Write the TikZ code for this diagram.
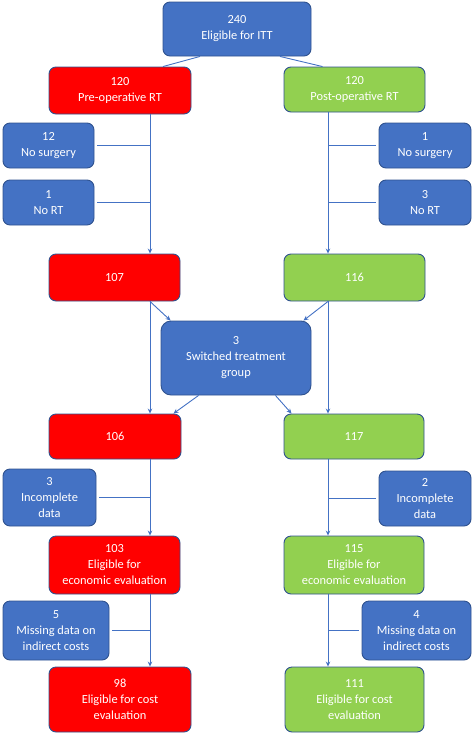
\documentclass[tikz,border=0pt]{standalone}
\usepackage{fontspec}
\setmainfont{Carlito}
\usepackage{xcolor}
\usepackage{tikz}
\usetikzlibrary{arrows.meta,positioning}

\definecolor{boxblue}{HTML}{4472C4}
\definecolor{boxedge}{HTML}{2F528F}
\definecolor{boxred}{HTML}{FF0000}
\definecolor{boxgreen}{HTML}{92D050}

\tikzset{
  box/.style={draw=boxedge, line width=0.9pt, rounded corners=7pt, text=white,
    align=center, inner sep=0pt, font=\fontsize{12.4}{16}\selectfont},
  bluebox/.style={box, fill=boxblue},
  redbox/.style={box, fill=boxred},
  greenbox/.style={box, fill=boxgreen},
  link/.style={draw=boxblue, line width=0.9pt},
  flow/.style={link, -{Stealth[length=5pt,width=4.5pt]}}
}

\begin{document}
\begin{tikzpicture}[x=1pt,y=-1pt]
		\useasboundingbox (0,0) rectangle (474,734);
		\node[bluebox, minimum width=148pt, minimum height=54pt] (itt) at (237,29) {240\\Eligible for ITT};
		\node[redbox, minimum width=142pt, minimum height=47pt] (pre) at (120,90.5) {120\\Pre-operative RT};
		\node[greenbox, minimum width=141pt, minimum height=45pt] (post) at (354.5,89.5) {120\\Post-operative RT};
		\node[bluebox, minimum width=91pt, minimum height=45pt] (nosurgL) at (48.5,145.5) {12\\No surgery};
		\node[bluebox, minimum width=91pt, minimum height=45pt] (nortL) at (48.5,202.5) {1\\No RT};
		\node[bluebox, minimum width=92pt, minimum height=45pt] (nosurgR) at (425,145.5) {1\\No surgery};
		\node[bluebox, minimum width=92pt, minimum height=45pt] (nortR) at (425,202.5) {3\\No RT};
		\node[redbox, minimum width=131pt, minimum height=47pt] (n107) at (114.5,277.5) {107};
		\node[greenbox, minimum width=141pt, minimum height=47pt] (n116) at (354.5,277.5) {116};
		\node[bluebox, minimum width=150pt, minimum height=74pt, rounded corners=10pt] (switch) at (236,358) {3\\Switched treatment\\group};
		\node[redbox, minimum width=132pt, minimum height=45pt] (n106) at (115,436.5) {106};
		\node[greenbox, minimum width=140pt, minimum height=45pt] (n117) at (354,436.5) {117};
		\node[bluebox, minimum width=93pt, minimum height=57pt] (incompL) at (49.5,497.5) {3\\Incomplete\\data};
		\node[bluebox, minimum width=92pt, minimum height=55pt] (incompR) at (425,498.5) {2\\Incomplete\\data};
		\node[redbox, minimum width=131pt, minimum height=58pt] (n103) at (114.5,565) {103\\Eligible for\\economic evaluation};
		\node[greenbox, minimum width=140pt, minimum height=58pt] (n115) at (354,565) {115\\Eligible for\\economic evaluation};
		\node[bluebox, minimum width=106pt, minimum height=59pt] (missL) at (56,630.5) {5\\Missing data on\\indirect costs};
		\node[bluebox, minimum width=109pt, minimum height=59pt] (missR) at (416.5,630.5) {4\\Missing data on\\indirect costs};
		\node[redbox, minimum width=142pt, minimum height=65pt] (n98) at (120,699.5) {98\\Eligible for cost\\evaluation};
		\node[greenbox, minimum width=139pt, minimum height=65pt] (n111) at (354.5,699.5) {111\\Eligible for cost\\evaluation};
		\coordinate (spineL) at (150,0);
		\coordinate (spineR) at (328,0);
		% split
		\draw[link] ([xshift=-37pt]itt.south) -- ([xshift=43pt]pre.north);
		\draw[link] ([xshift=43pt]itt.south) -- ([xshift=-32pt]post.north);
		% left arm
		\draw[flow] (pre.south -| spineL) -- (n107.north -| spineL);
		\draw[flow] (n107.south -| spineL) -- (n106.north -| spineL);
		\draw[flow] (n106.south -| spineL) -- (n103.north -| spineL);
		\draw[flow] (n103.south -| spineL) -- (n98.north -| spineL);
		% right arm
		\draw[flow] (post.south -| spineR) -- (n116.north -| spineR);
		\draw[flow] (n116.south -| spineR) -- (n117.north -| spineR);
		\draw[flow] (n117.south -| spineR) -- (n115.north -| spineR);
		\draw[flow] (n115.south -| spineR) -- (n111.north -| spineR);
		% exclusions
		\foreach \ex in {nosurgL,nortL,incompL,missL}
			\draw[link] ([xshift=3pt]\ex.east) -- (\ex.east -| spineL);
		\foreach \ex in {nosurgR,nortR,incompR,missR}
			\draw[link] ([xshift=-3pt]\ex.west) -- (\ex.west -| spineR);
		% switching
		\draw[flow] (n107.south -| spineL) -- ([xshift=10pt]switch.north west);
		\draw[flow] (n116.south -| spineR) -- ([xshift=-8pt]switch.north east);
		\draw[flow] ([xshift=38pt]switch.south west) -- ([xshift=-8pt]n106.north east);
		\draw[flow] ([xshift=-36pt]switch.south east) -- ([xshift=8pt]n117.north west);
		\end{tikzpicture}
\end{document}
